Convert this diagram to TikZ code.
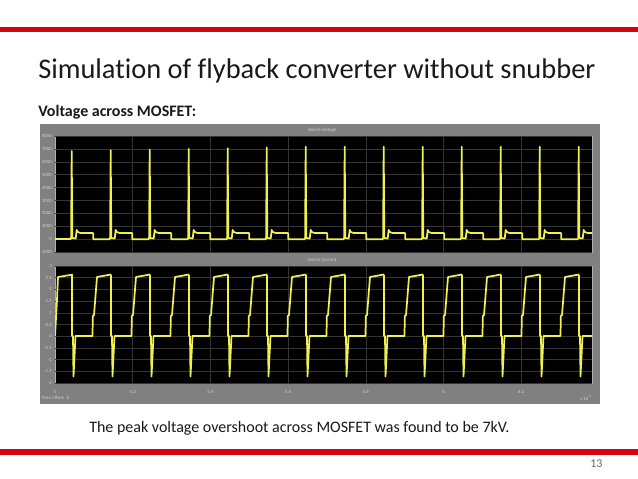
\documentclass[tikz,border=0pt]{standalone}
\usepackage{fontspec}
\setmainfont[Ligatures=NoCommon]{Carlito}
\definecolor{bandred}{RGB}{214,4,14}
\definecolor{panelgray}{RGB}{128,128,128}
\definecolor{scopeyellow}{RGB}{240,240,80}
\definecolor{gridgray}{RGB}{52,52,52}
\begin{document}
\begin{tikzpicture}[
      x=0.75pt, y=-0.75pt,
      band/.style ={fill=bandred, draw=none},
      scopeaxes/.style ={fill=black, draw=gray!60!white, line width=0.4pt},
      gridline/.style ={draw=gridgray, line width=0.4pt},
      trace/.style ={draw=scopeyellow, line width=1.3pt, line join=round},
      ticklabel/.style ={text=white!82!black, font=\fontsize{3.6}{4}\selectfont, inner sep=0pt},
      slidetext/.style ={text=black!90!white, inner sep=0pt, anchor=west}
    ]
    \useasboundingbox (0,0) rectangle (638,478) ;
    \fill [white] (0,0) rectangle (638,478) ;
    \fill [band] (0,27) rectangle (638,32.5) ;
    \fill [band] (0,449) rectangle (638,454.5) ;

    \node [slidetext, font=\fontsize{21.32}{26}\selectfont] (title) at (38,71) {Simulation of flyback converter without snubber} ;
    \node [slidetext, font=\bfseries\fontsize{12}{14}\selectfont] (subtitle) at (38,112) {Voltage across MOSFET:} ;
    \node [slidetext, font=\fontsize{12}{14}\selectfont] (caption) at (89,428) {The peak voltage overshoot across MOSFET was found to be 7kV.} ;
    \node [slidetext, text=black!60!white, font=\fontsize{9}{11}\selectfont] (pagenum) at (590,464) {13} ;

    \fill [panelgray] (40,124) rectangle (600,404) ;
    \draw [scopeaxes] (55,136) rectangle (592,252) ;
    \draw [scopeaxes] (55,266) rectangle (592,383) ;

    % grid of both plots
    \foreach \gx in {132.7,210.4,288.1,365.8,443.5,521.2} {
      \draw [gridline] (\gx,136) -- (\gx,252) ;
      \draw [gridline] (\gx,266) -- (\gx,383) ;
    }
    \foreach \i/\val in {0/8000,1/7000,2/6000,3/5000,4/4000,5/3000,6/2000,7/1000,8/0,9/-1000} {
      \pgfmathsetmacro{\gy}{136+\i*12.9}
      \draw [gridline] (55,\gy) -- (592,\gy) ;
      \node [ticklabel, anchor=east] (volt\i) at (52,\gy) {\val} ;
    }
    \foreach \i/\val in {0/3,1/2.5,2/2,3/1.5,4/1,5/0.5,6/0,7/-0.5,8/-1,9/-1.5,10/-2} {
      \pgfmathsetmacro{\gy}{266+\i*11.7}
      \draw [gridline] (55,\gy) -- (592,\gy) ;
      \node [ticklabel, anchor=east] (curr\i) at (52,\gy) {\val} ;
    }
    \foreach \gx/\val in {55/5,132.7/5.2,210.4/5.4,288.1/5.6,365.8/5.8,443.5/6,521.2/6.2} {
      \node [ticklabel] (time\val) at (\gx,392) {\val} ;
    }
    \node [ticklabel] (topname) at (322,130) {Switch Voltage} ;
    \node [ticklabel] (botname) at (322,260) {Switch Current} ;
    \node [ticklabel, anchor=west] (offset) at (41,398) {Time offset:\ \ 6} ;
    \node [ticklabel, anchor=east] (scale) at (592,398) {x 10\textsuperscript{-3}} ;

    \begin{scope}
      \clip (55,136) rectangle (592,252) ;
      % voltage trace
      \draw [trace] (55,239.3) -- (71,239.3) ;
      \foreach \k in {0,...,13} {
        \pgfmathsetmacro{\px}{71.7+\k*39}
        \pgfmathsetmacro{\py}{151-min(\k,6)*0.7}
        \draw [trace] (\px-0.6,239.3) -- (\px,\py) -- (\px+0.6,238) -- (\px+4,238.5) -- (\px+5,230)
          -- (\px+6,232) -- (\px+9,233) -- (\px+21.4,233) -- (\px+21.6,239.3) -- (\px+38.4,239.3) ;
      }
    \end{scope}
    \begin{scope}
      \clip (55,266) rectangle (592,383) ;
      % current trace
      \draw [trace] (55,336) -- (57,300) -- (58,277) -- (72,274.7) -- (72,336) ;
      \foreach \k in {0,...,13} {
        \pgfmathsetmacro{\px}{72+\k*39}
        \draw [trace] (\px,274.5) -- (\px,336) -- (\px+1,336) -- (\px+1.5,376.5) -- (\px+3.5,336)
          -- (\px+20.5,336) -- (\px+20.8,316) -- (\px+22,315) -- (\px+25,277) -- (\px+39,274.5) ;
      }
    \end{scope}
  \end{tikzpicture}
\end{document}
